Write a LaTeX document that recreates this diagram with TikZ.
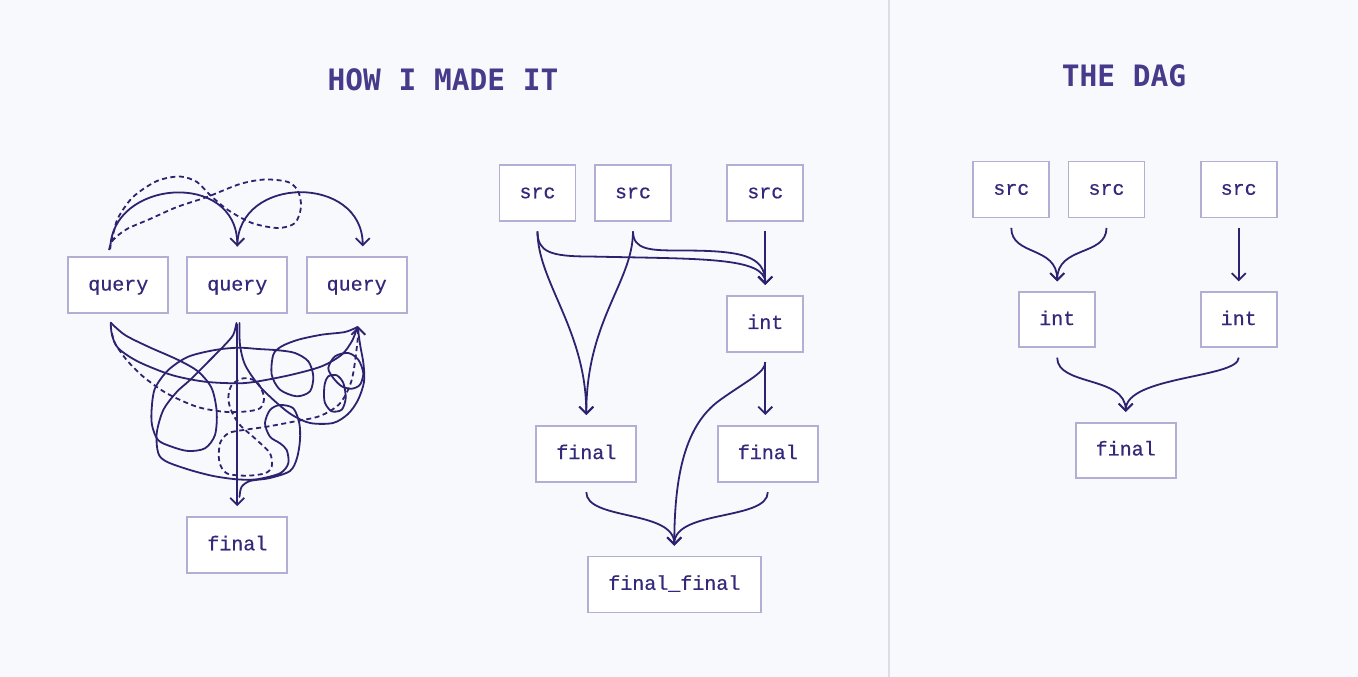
\documentclass[tikz,border=0pt]{standalone}
\usepackage{fontspec}
\usetikzlibrary{arrows.meta,calc}
\newfontfamily\labfont{Liberation Mono}[FakeBold=0.5]
\newfontfamily\titfont{DejaVu Sans Mono}
\definecolor{bgc}{HTML}{F8F9FC}
\definecolor{linec}{HTML}{2E2270}
\definecolor{titc}{HTML}{483A8A}
\definecolor{boxc}{HTML}{B3AED3}
\definecolor{labc}{HTML}{33287A}
\definecolor{divc}{HTML}{DCDDE5}
\begin{document}
\begin{tikzpicture}[x=1pt,y=-1pt,
  box/.style={draw=boxc, fill=white, line width=1.7pt, minimum height=56pt, minimum width=100pt,
    inner sep=0pt, text=labc, font=\labfont\fontsize{20}{24}\selectfont, text height=12pt, text depth=1.5pt},
  sbox/.style={box, minimum width=76pt},
  ttl/.style={text=titc, font=\titfont\bfseries\fontsize{29.5}{32}\selectfont, inner sep=0pt},
  conn/.style={draw=linec, line width=1.8pt, -{Straight Barb[length=7pt,width=14pt]}},
  gap/.style={shorten <=9.5pt, shorten >=10pt},
  mess/.style={draw=linec, line width=1.8pt, line cap=round, line join=round},
  mdash/.style={draw=linec, line width=1.8pt, dash pattern=on 5pt off 3.5pt}]
\fill[bgc] (0,0) rectangle (1358,677);
\useasboundingbox (0,0) rectangle (1358,677);
\draw[divc, line width=1.3pt] (889,0) -- (889,677);

% titles
\node[ttl] (t1) at (443,80) {HOW I MADE IT};
\node[ttl] (t2) at (1124,76) {THE DAG};

% left nodes
\node[box] (q1) at (118.3,285.3) {query};
\node[box] (q2) at (237.3,285.3) {query};
\node[box] (q3) at (356.7,285.3) {query};
\node[box] (finL) at (237.3,545) {final};

% middle nodes
\node[sbox] (src1) at (537.5,193) {src};
\node[sbox] (src2) at (633,193) {src};
\node[sbox] (src3) at (765.3,193) {src};
\node[sbox] (int) at (765.3,323.7) {int};
\node[box] (final1) at (586.3,453.8) {final};
\node[box] (final2) at (767.8,453.8) {final};
\node[box, minimum width=173pt] (ff) at (674.3,584.5) {final\_final};

% right nodes
\node[sbox] (sA) at (1011.3,189.5) {src};
\node[sbox] (sB) at (1106.5,189.5) {src};
\node[sbox] (sC) at (1238.7,189.5) {src};
\node[sbox, minimum height=55pt] (iA) at (1057.2,319.8) {int};
\node[sbox, minimum height=55pt] (iB) at (1238.7,319.8) {int};
\node[box, minimum height=55pt] (fR) at (1125.7,450.2) {final};

% ---- left: messy connections ----
\draw[conn] ([shift={(-8,-7)}]q1.north) .. controls +(0,-70) and +(0,-77) .. ([shift={(0,-10)}]q2.north);
\draw[conn] ([shift={(0,-10)}]q2.north) .. controls +(0,-72) and +(0,-72) .. ([shift={(6,-10)}]q3.north);
\draw[mdash] plot[smooth] coordinates {(109,250) (113,235) (118,218) (133,197) (157,181) (180,176.5) (197,182) (210,195) (228,210) (252,223) (278,228) (295,223) (301,207) (298,191) (288,182) (265,179.5) (240,184) (207,197) (177,207) (150,219) (127,229) (113,240) (109,250)};

\draw[conn,gap] (q2.south) -- (finL.north);

% upper lip + big loop + top line
\draw[mess] plot[smooth] coordinates {(110.7,322.7) (125,335) (148.3,346.7) (178.3,360) (198.3,371.7) (211.7,388.3) (216.7,411.7) (215,435) (205,448.3) (188.3,451) (171.7,446.7) (158,440) (152,425) (151.7,408.3) (155,388.3) (168.3,370) (188.3,356.7) (215,350) (238.3,347.7) (258.3,349) (278.3,350.3) (295,353) (308.3,361.3) (313.3,376.3) (310,391.3) (296.7,396.3) (280,389.7) (271.7,374.7) (273.3,354.7) (281.7,346.3) (298.3,339.7) (321.7,334.7) (345,332) (357.5,327)};
% lower lip
\draw[mess] plot[smooth] coordinates {(110.7,322.7) (112,335) (118.3,348.3) (138.3,361.7) (171.7,375) (205,381.7) (238.3,383.3) (258.3,381.3) (291.7,374.7) (321.7,366.3) (341.7,354.7) (352,341) (357.5,327)};
% from query2 down-left around the bottom
\draw[mess] plot[smooth] coordinates {(236.5,323) (233.3,334.7) (225,344.7) (210,360) (190,380) (176.7,392) (163.3,410) (156.7,433.3) (158.3,453.3) (166.7,461.7) (190,470) (213.3,476) (236.7,479.3) (256.7,479.3) (280,473.3) (288.3,463.3) (286.7,450) (280,443.3) (270,436.7) (265,423.3) (270,410) (280,405) (293.3,408.3) (299.3,423.3) (300,440) (297,458) (290,471) (270,478) (250,481) (241.5,487) (239.5,497)};
% from query2 down-right to the teardrop, arrow into query3
\draw[mess, -{Straight Barb[length=7pt,width=14pt]}] plot[smooth] coordinates {(239.5,323) (240,345) (245,364.7) (258.3,384.7) (275,401.3) (291.7,414.7) (310,423) (333,423) (348,414) (358,400) (364,382) (363.5,364) (360.5,347) (358.6,334) (358.3,326.5)};
% small loops
\draw[mess] plot[smooth cycle] coordinates {(328.3,368) (335,356.3) (348.3,353) (358.3,359.7) (363.3,373) (360,384.7) (351.7,388.7) (341.7,386.3) (333.3,378)};
\draw[mess] plot[smooth cycle] coordinates {(325,383) (328.3,376.3) (336.7,375.3) (343.3,383) (345.7,398) (341.7,409.7) (331.7,411.3) (325,403) (324,392)};
% dashed lower scribble
\draw[mdash] plot[smooth] coordinates {(112,333) (115,343.3) (126.7,360) (143.3,376.7) (166.7,393.3) (196.7,406.7) (223.3,411.7) (243.3,411.7) (260,408.3) (264,396.7) (256.7,381.7) (243.3,378.3) (231.7,385) (228.3,398.3) (231.7,411.7) (240,425) (256.7,440) (270,453.3) (271.7,466.7) (265,473.3) (246.7,475.7) (226.7,473.3) (219.3,461.7) (220,443.3) (228.3,433.3) (243.3,430) (266.7,426.7) (293.3,421.7) (320,416) (340,403.3) (351.7,380) (357.3,343.3) (358,330)};

% ---- middle DAG ----
\draw[conn,gap] (src1.south) .. controls +(0,60) and +(0,-95) .. (final1.north);
\draw[conn,gap] (src2.south) .. controls +(0,60) and +(0,-105) .. (final1.north);
\draw[conn,gap] (src1.south) .. controls +(0,30) and +(-40,0) .. (590,256.5) .. controls +(110,2.5) and +(0,-38) .. (int.north);
\draw[conn,gap] (src2.south) .. controls +(0,28) and +(-30,0) .. (680,250.5) .. controls +(60,0) and +(0,-40) .. (int.north);
\draw[conn,gap] (src3.south) -- (int.north);
\draw[conn,gap] (int.south) -- (int.south |- final2.north);
\draw[conn,gap] (int.south) .. controls +(0,20) and +(28,-20) .. (720,400) .. controls +(-35,25) and +(0,-80) .. (ff.north);
\draw[conn,gap] (final1.south) .. controls +(0,38) and +(0,-46) .. (ff.north);
\draw[conn,gap] (final2.south) .. controls +(0,38) and +(0,-46) .. (ff.north);

% ---- right DAG ----
\draw[conn,gap] (sA.south) .. controls +(0,38) and +(0,-46) .. (iA.north);
\draw[conn,gap] (sB.south) .. controls +(0,38) and +(0,-46) .. (iA.north);
\draw[conn,gap] (sC.south) -- (iB.north);
\draw[conn,gap] (iA.south) .. controls +(0,38) and +(0,-46) .. (fR.north);
\draw[conn,gap] (iB.south) .. controls +(0,30) and +(0,-46) .. (fR.north);
\end{tikzpicture}
\end{document}
